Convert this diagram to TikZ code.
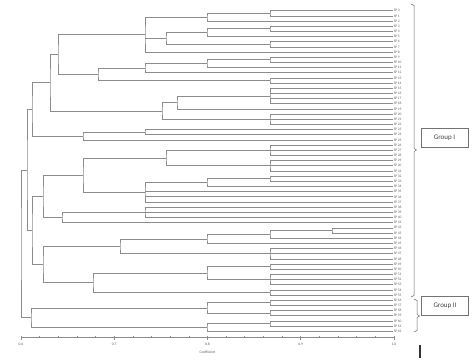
\documentclass[tikz,border=0pt]{standalone}
\usepackage{fontspec}
\setmainfont{Carlito}
\usetikzlibrary{calc}
\tikzset{
  tree/.style={draw=black!45, line width=0.65pt},
  leaflab/.style={font=\fontsize{3.6}{3.6}\selectfont, text=black!60, anchor=west, inner sep=0.6pt},
  axislab/.style={font=\fontsize{3.6}{3.6}\selectfont, text=black!65, inner sep=0pt},
  gbox/.style={draw=black!55, line width=0.5pt, minimum width=47pt, minimum height=19pt, inner sep=0pt, font=\fontsize{7}{8}\selectfont, text=black!75},
  brk/.style={draw=black!60, line width=0.5pt}
}
\newcommand\jn[4]{\path let \p1=($(#3)!.5!(#4)$) in coordinate (#1) at (#2pt,\y1);
  \draw[tree] (#3) -| (#1) |- (#4);}
\newcommand\jm[2]{\draw[tree] (#2) -- (#1 |- #2);}
\begin{document}
\begin{tikzpicture}[x=1pt,y=-1pt]
\useasboundingbox (0,0) rectangle (474,361);
\fill[white] (0,0) rectangle (474,361);
% leaves
\foreach \i in {0,...,62}{
  \coordinate (L\i) at (393,{10.7+5.17*\i});
  \node[leaflab] (t\i) at (L\i) {SP\,\i};
}
% Group I
\jn{a01}{270}{L0}{L1}
\jn{a02}{207}{a01}{L2}
\jn{a03}{270}{L3}{L4}
\jn{a04}{207}{a03}{L5}
\jn{a05}{270}{L6}{L7}
\jn{a06}{166}{a04}{a05}
\jn{nI}{145}{a02}{L8} \jm{nI}{a06}
\jn{a07}{270}{L9}{L10}
\jn{a08}{207}{a07}{L11}
\jn{a09}{145}{a08}{L12}
\jn{a10}{270}{L13}{L14}
\jn{nJ}{98}{a09}{a10}
\jn{nG}{58}{nI}{nJ}
\jn{a11}{270}{L15}{L18} \jm{a11}{L16} \jm{a11}{L17}
\jn{a12}{177}{a11}{L19}
\jn{a13}{270}{L20}{L22} \jm{a13}{L21}
\jn{nH}{162}{a12}{a13}
\jn{nF}{50}{nG}{nH}
\jn{a14}{145}{L23}{L24}
\jn{nK}{83}{a14}{L25}
\jn{nE}{32}{nF}{nK}
\jn{a15}{270}{L26}{L28} \jm{a15}{L27}
\jn{a16}{270}{L29}{L31} \jm{a16}{L30}
\jn{a17}{166}{a15}{a16}
\jn{a18}{270}{L32}{L33}
\jn{a19}{207}{a18}{L34}
\jn{nP}{145}{a19}{L37} \jm{nP}{L35} \jm{nP}{L36}
\jn{nM}{83}{a17}{nP}
\jn{a20}{145}{L38}{L40} \jm{a20}{L39}
\jn{nQ}{62}{a20}{L41}
\jn{nC}{43}{nM}{nQ}
\jn{a21}{332}{L42}{L43}
\jn{a22}{270}{a21}{L44}
\jn{a23}{207}{a22}{L45}
\jn{a24}{270}{L46}{L48} \jm{a24}{L47}
\jn{nS}{120}{a23}{a24}
\jn{a25}{270}{L49}{L50}
\jn{a26}{270}{L51}{L53} \jm{a26}{L52}
\jn{a27}{207}{a25}{a26}
\jn{a28}{270}{L54}{L55}
\jn{nX}{93}{a27}{a28}
\jn{nD}{43}{nS}{nX}
\jn{nB}{32}{nC}{nD}
\jn{nA}{27}{nE}{nB}
% Group II
\jn{b1}{270}{L56}{L57}
\jn{b2}{270}{L58}{L59}
\jn{b3}{207}{b1}{b2}
\jn{b4}{270}{L60}{L61}
\jn{b5}{207}{b4}{L62}
\jn{nZ}{31}{b3}{b5}
\jn{root}{21}{nA}{nZ}
% axis
\draw[tree] (21,337) -- (394,337);
\foreach \k in {0,...,20}{
  \draw[tree] ({21+18.65*\k},337) -- ({21+18.65*\k},335.5);
}
\foreach \k/\lab in {0/0.6,1/0.7,2/0.8,3/0.9,4/1.0}{
  \draw[tree] ({21+93.25*\k},337) -- ({21+93.25*\k},339.5);
  \node[axislab] (ax\k) at ({21+93.25*\k},344) {\lab};
}
\node[axislab] (coef) at (207.5,352) {Coefficient};
% brackets
\draw[brk] (411,4) -- (414,5.5) -- (414,148.5) -- (416.5,150) -- (414,151.5) -- (414,295.5) -- (411,297);
\draw[brk] (414,299) -- (417,300.5) -- (417,314.5) -- (419.5,316) -- (417,317.5) -- (417,330.5) -- (414,332);
% group boxes
\node[gbox] (g1) at (444.5,138) {Group I};
\node[gbox] (g2) at (445,306) {Group II};
% mark
\draw[black!80, line width=1.6pt] (420,345) -- (420,358);
\end{tikzpicture}
\end{document}
